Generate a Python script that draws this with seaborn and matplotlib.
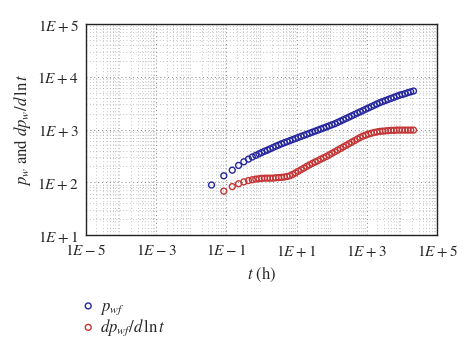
import matplotlib
matplotlib.use("Agg")
import matplotlib.pyplot as plt
import matplotlib.ticker as mticker
import seaborn as sns
import pandas as pd

# time (h)
t_hours = [
    0.038, 0.085, 0.148, 0.224, 0.316, 0.427, 0.550, 0.692, 0.851,
    1.02, 1.23, 1.48, 1.78, 2.14, 2.57, 3.09, 3.72, 4.47, 5.37, 6.46,
    7.76, 9.33, 11.2, 13.5, 16.2, 19.5, 23.4, 28.2, 33.9, 40.7,
    49.0, 58.9, 70.8, 85.1, 102, 123, 148, 178, 214, 257,
    309, 372, 447, 537, 646, 776, 933, 1120, 1350, 1620,
    1950, 2340, 2820, 3390, 4070, 4900, 5890, 7080, 8510, 10200,
    12300, 14800, 17800, 21400,
]

p_wf = [
    89, 133, 170, 209, 245, 275, 302, 324, 347,
    367, 389, 407, 432, 457, 484, 507, 537, 562, 589, 617,
    646, 676, 708, 741, 776, 813, 851, 891, 933, 977,
    1023, 1072, 1122, 1175, 1230, 1288, 1365, 1445, 1531, 1622,
    1718, 1820, 1928, 2042, 2163, 2291, 2427, 2570, 2723, 2884,
    3055, 3236, 3388, 3548, 3715, 3890, 4074, 4266, 4467, 4624,
    4786, 5012, 5188, 5370,
]

# derivative starts at the second time value
t_deriv = t_hours[1:]
dp_wf = [
    68, 83, 94, 102, 108, 112, 115, 117,
    119, 120, 120, 120, 120, 122, 123, 124, 126, 129, 133,
    141, 151, 162, 174, 186, 200, 214, 229, 243, 257,
    275, 292, 309, 331, 355, 380, 407, 437, 468, 501,
    537, 575, 617, 661, 708, 750, 785, 822, 851, 881,
    902, 923, 933, 944, 955, 966, 966, 977, 977, 977,
    977, 977, 977, 977,
]

x_ticks = [1e-5, 1e-3, 1e-1, 1e1, 1e3, 1e5]
x_tick_labels = [r"$1E\:-\:5$", r"$1E\:-\:3$", r"$1E\:-\:1$",
                 r"$1E\:+\:1$", r"$1E\:+\:3$", r"$1E\:+\:5$"]
y_ticks = [1e1, 1e2, 1e3, 1e4, 1e5]
y_tick_labels = [r"$1E\:+\:1$", r"$1E\:+\:2$", r"$1E\:+\:3$",
                 r"$1E\:+\:4$", r"$1E\:+\:5$"]

df_p = pd.DataFrame({"t": t_hours, "v": p_wf})
df_d = pd.DataFrame({"t": t_deriv, "v": dp_wf})

sns.set_style("white")
plt.rcParams["font.family"] = ["Liberation Serif", "DejaVu Serif"]
plt.rcParams["mathtext.fontset"] = "stix"

fig = plt.figure(figsize=(4.74, 3.53), dpi=100)
ax = fig.add_axes([0.181, 0.334, 0.741, 0.598])

sns.scatterplot(data=df_p, x="t", y="v", ax=ax, marker="o", s=18,
                facecolor="none", edgecolor="#26269e", linewidth=1.0,
                label="$p_{wf}$")
sns.scatterplot(data=df_d, x="t", y="v", ax=ax, marker="o", s=18,
                facecolor="none", edgecolor="#c43434", linewidth=1.0,
                label=r"$dp_{wf}/d\,\ln t$")

ax.set_xscale("log")
ax.set_yscale("log")
ax.set_xlim(1e-5, 1e5)
ax.set_ylim(1e1, 1e5)
ax.set_xticks(x_ticks)
ax.set_xticklabels(x_tick_labels, fontsize=11)
ax.set_yticks(y_ticks)
ax.set_yticklabels(y_tick_labels, fontsize=11)
ax.xaxis.set_minor_locator(mticker.LogLocator(base=10, subs=range(2, 10), numticks=50))
ax.yaxis.set_minor_locator(mticker.LogLocator(base=10, subs=range(2, 10), numticks=50))
ax.xaxis.set_minor_formatter(mticker.NullFormatter())
ax.yaxis.set_minor_formatter(mticker.NullFormatter())
ax.tick_params(which="both", length=0)
ax.tick_params(axis="y", pad=5)
ax.tick_params(axis="x", pad=6)

ax.grid(True, which="major", linestyle=(0, (1, 3)), color="#808080", linewidth=0.7)
ax.grid(True, which="minor", linestyle=(0, (1, 3)), color="#b0b0b0", linewidth=0.6)

for sp in ax.spines.values():
    sp.set_color("#222222")
    sp.set_linewidth(1.0)

ax.set_xlabel(r"$t\ \mathrm{(h)}$", fontsize=12, labelpad=4)
ax.set_ylabel(r"$p_w\ \mathrm{and}\ dp_w/d\,\ln t$", fontsize=12, labelpad=3)

ax.legend(loc="upper left", bbox_to_anchor=(0.165, 0.155), bbox_transform=fig.transFigure,
          frameon=False, fontsize=12, handletextpad=0.1, borderaxespad=0,
          handlelength=1.2, labelspacing=0.05, borderpad=0)

fig.savefig("out.png", dpi=100, facecolor="white")
